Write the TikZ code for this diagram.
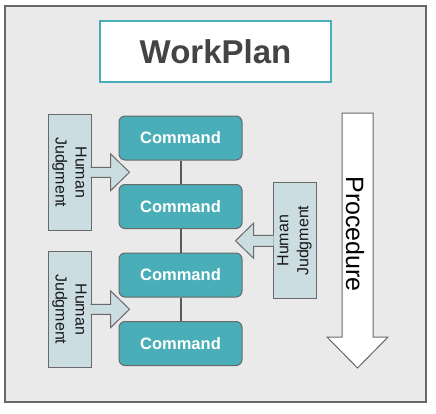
\documentclass[tikz,border=0pt]{standalone}
\usepackage{fontspec}
\setmainfont{Liberation Sans}
\usetikzlibrary{positioning}
\definecolor{my_teal}{RGB}{74, 174, 184}
\definecolor{my_frame}{RGB}{234, 234, 234}
\definecolor{my_judge}{RGB}{203, 221, 225}
\definecolor{my_border}{RGB}{105, 105, 105}
\definecolor{my_title}{RGB}{68, 68, 68}
\tikzset {
  frame/.style = {draw=my_border, line width=1.5pt, fill=my_frame},
  title/.style = {draw=my_teal, line width=2pt, fill=white, minimum width=231pt, minimum height=61pt, text=my_title, font=\bfseries\fontsize{33}{38}\selectfont},
  command/.style = {draw=my_border, line width=1pt, fill=my_teal, rounded corners=6pt, minimum width=123pt, minimum height=44pt, text=white, font=\bfseries\fontsize{16.5}{19}\selectfont},
  judgebox/.style = {draw=my_border, line width=1pt, fill=my_judge, minimum width=43pt, minimum height=116pt},
  judgetext/.style = {align=center, inner sep=0pt, text=black!90, font=\fontsize{16}{20}\selectfont},
  pointer/.style = {draw=my_border, line width=1pt, fill=my_judge},
  procarrow/.style = {draw=my_border, line width=1pt, fill=white},
  proctext/.style = {inner sep=0pt, font=\fontsize{25}{28}\selectfont},
  link/.style = {draw=my_border!85!black, line width=2pt}
}

\begin{document}
\begin{tikzpicture}[x=1pt, y=-1pt, node distance=23.5pt]
    \useasboundingbox (0,0) rectangle (436,413);
    \draw[frame] (5,6) rectangle (426,402);
    \node[title, name=title] (title) at (215.5,51.5) {WorkPlan};

    \node[command, name=cmd1] (cmd1) at (180.5,138) {Command};
    \node[command, name=cmd2, below=of cmd1] (cmd2) {Command};
    \node[command, name=cmd3, below=of cmd2] (cmd3) {Command};
    \node[command, name=cmd4, below=of cmd3] (cmd4) {Command};

    \draw[link] (cmd1) -- (cmd2);
    \draw[link] (cmd2) -- (cmd3);
    \draw[link] (cmd3) -- (cmd4);

    \path (cmd1) -- (cmd2) coordinate[midway] (gap12);
    \path (cmd2) -- (cmd3) coordinate[midway] (gap23);
    \path (cmd3) -- (cmd4) coordinate[midway] (gap34);

    % human judgment callouts
    \node[judgebox, name=judge1, left=89pt of gap12] (judge1) {};
    \draw[pointer] (judge1.east) ++(-1,-5) -- ++(20,0) -- ++(0,-13.5) -- ++(19,18.5) -- ++(-19,18.5) -- ++(0,-13.5) -- ++(-20,0);
    \node[judgetext, rotate=-90] (judge1text) at (judge1) {Human\\Judgment};

    \node[judgebox, name=judge2, right=92pt of gap23] (judge2) {};
    \draw[pointer] (judge2.west) ++(1,-5.5) -- ++(-20,0) -- ++(0,-12) -- ++(-18,17.5) -- ++(18,17.5) -- ++(0,-12) -- ++(20,0);
    \node[judgetext, rotate=90] (judge2text) at (judge2) {Human\\Judgment};

    \node[judgebox, name=judge3, left=89pt of gap34] (judge3) {};
    \draw[pointer] (judge3.east) ++(-1,-5) -- ++(20,0) -- ++(0,-13.5) -- ++(19,18.5) -- ++(-19,18.5) -- ++(0,-13.5) -- ++(-20,0);
    \node[judgetext, rotate=-90] (judge3text) at (judge3) {Human\\Judgment};

    % procedure arrow
    \coordinate (proctop) at (357.5,113);
    \draw[procarrow] (proctop) ++(-15.5,0) -- ++(0,224) -- ++(-15,0) -- ++(30.5,31) -- ++(30.5,-31) -- ++(-15,0) -- ++(0,-224) -- cycle;
    \node[proctext, rotate=-90] (procedure) at (355,234) {Procedure};

  \end{tikzpicture}
\end{document}
